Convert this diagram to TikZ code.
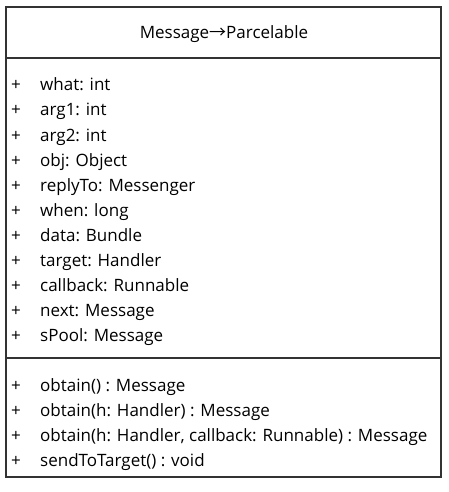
\documentclass[tikz,border=0pt]{standalone}
\usepackage{fontspec}
\setmainfont{Open Sans}
\newfontfamily\arrowfont{Noto Sans CJK SC}
\usepackage{tikz}
\usetikzlibrary{calc}

\begin{document}
\begin{tikzpicture}[x=1pt, y=-1pt,
    part/.style={rectangle, draw=black!80, line width=1.2pt, minimum width=435pt, inner sep=0pt},
    sign/.style={anchor=base west, inner sep=0pt, font=\fontsize{17}{19}\selectfont},
    member/.style={anchor=base west, inner sep=0pt, font=\fontsize{17}{19}\selectfont}]
    \useasboundingbox (0,0) rectangle (449,492);
    % Place compartments
    \node [part, minimum height=51pt] (head) at (223.5,32.5) {};
    \node [part, minimum height=300pt] (attrs) at (223.5,208) {};
    \node [part, minimum height=119pt] (ops) at (223.5,417.5) {};
    \node [anchor=base, inner sep=0pt, font=\fontsize{17}{19}\selectfont] (title) at (224,39) {Message{\arrowfont →}Parcelable};
    % Attributes
    \node [sign] (s1) at (11,91) {+};   \node [member] (a1) at (40,91) {what: int};
    \node [sign] (s2) at (11,116) {+};  \node [member] (a2) at (40,116) {arg1: int};
    \node [sign] (s3) at (11,141) {+};  \node [member] (a3) at (40,141) {arg2: int};
    \node [sign] (s4) at (11,166) {+};  \node [member] (a4) at (40,166) {obj: Object};
    \node [sign] (s5) at (11,191) {+};  \node [member] (a5) at (40,191) {replyTo: Messenger};
    \node [sign] (s6) at (11,216) {+};  \node [member] (a6) at (40,216) {when: long};
    \node [sign] (s7) at (11,241) {+};  \node [member] (a7) at (40,241) {data: Bundle};
    \node [sign] (s8) at (11,266) {+};  \node [member] (a8) at (40,266) {target: Handler};
    \node [sign] (s9) at (11,291) {+};  \node [member] (a9) at (40,291) {callback: Runnable};
    \node [sign] (s10) at (11,316) {+}; \node [member] (a10) at (40,316) {next: Message};
    \node [sign] (s11) at (11,341) {+}; \node [member] (a11) at (40,341) {sPool: Message};
    % Operations
    \node [sign] (t1) at (11,391) {+};  \node [member] (m1) at (40,391) {obtain() : Message};
    \node [sign] (t2) at (11,416) {+};  \node [member] (m2) at (40,416) {obtain(h: Handler) : Message};
    \node [sign] (t3) at (11,441) {+};  \node [member] (m3) at (40,441) {obtain(h: Handler, callback: Runnable) : Message};
    \node [sign] (t4) at (11,466) {+};  \node [member] (m4) at (40,466) {sendToTarget() : void};
\end{tikzpicture}
\end{document}
